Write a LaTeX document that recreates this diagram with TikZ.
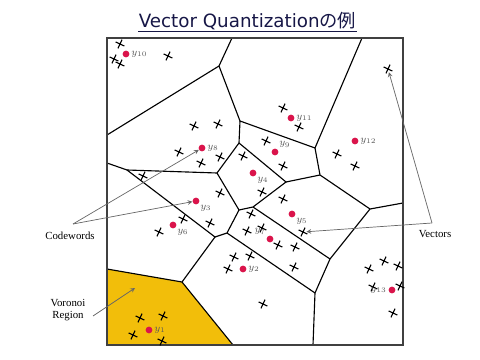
\documentclass[tikz,border=0pt]{standalone}
\usepackage{fontspec}
\setmainfont{Liberation Serif}
\newfontfamily\titlefont{DejaVu Sans}
\newfontfamily\cjkfont{Noto Sans CJK JP}
\usetikzlibrary{arrows, shapes.misc, calc}
\definecolor{navy}{RGB}{22,22,70}
\definecolor{gold}{RGB}{242,190,10}
\definecolor{crimson}{RGB}{218,20,75}

\begin{document}
\begin{tikzpicture}[x=0.025cm, y=-0.025cm,
    codeword/.style={circle, fill=crimson, inner sep=0pt, minimum size=0.17cm},
    vect/.style={cross out, draw=black, line width=0.8pt, inner sep=0pt, minimum size=0.14cm, rotate=20},
    cwlabel/.style={text=black!65, font=\fontsize{7}{8}\selectfont, inner sep=1pt},
    cell/.style={black, line width=0.8pt},
    callout/.style={black!60, line width=0.5pt, -stealth},
    note/.style={font=\fontsize{7.7}{9}\selectfont, align=center, inner sep=0pt},
]
    \useasboundingbox (0,0) rectangle (480,360);

    \node[font=\titlefont\fontsize{13}{15}\selectfont, text=navy, anchor=base, inner sep=0pt] (title) at (247.5,28) {Vector Quantization{\cjkfont の例}};
    \draw[navy, line width=0.7pt] ([yshift=-2.2pt]title.base west) -- ([yshift=-2.2pt]title.base east);

    \fill[gold] (107,269) -- (182,282) -- (233,345) -- (107,345) -- cycle;

    \coordinate (A) at (219,66);   \coordinate (top1) at (232,38);  \coordinate (left1) at (107,135);
    \coordinate (B) at (240,121);
    \coordinate (C) at (315,148);  \coordinate (top2) at (362,38);
    \coordinate (D) at (320,175);
    \coordinate (E) at (370,209);  \coordinate (right1) at (403,203);
    \coordinate (F) at (330,259);
    \coordinate (G) at (315,293);  \coordinate (bot1) at (313,345);
    \coordinate (J) at (239,143);
    \coordinate (K) at (217,173);
    \coordinate (L) at (127,170);  \coordinate (left2) at (107,163);
    \coordinate (M) at (286,182);
    \coordinate (P) at (253,207);
    \coordinate (I) at (239,210);
    \coordinate (N) at (227,233);
    \coordinate (H) at (215,237);
    \coordinate (Q) at (182,282);  \coordinate (left3) at (107,269);  \coordinate (bot2) at (233,345);

    \draw[cell] (top1) -- (A) -- (left1);
    \draw[cell] (A) -- (B) -- (C) -- (top2);
    \draw[cell] (C) -- (D) -- (E) -- (right1);
    \draw[cell] (E) -- (F) -- (G) -- (bot1);
    \draw[cell] (B) -- (J) -- (K) -- (L) -- (left2);
    \draw[cell] (L) -- (H) -- (Q) -- (left3);
    \draw[cell] (Q) -- (bot2);
    \draw[cell] (K) -- (I) -- (P) -- (M) -- (J);
    \draw[cell] (M) -- (D);
    \draw[cell] (P) -- (F);
    \draw[cell] (I) -- (N) -- (H);
    \draw[cell] (N) -- (G);

    \draw[black!75, line width=0.8pt] (107,38) rectangle (403,345);

    \foreach \x/\y [count=\i] in {120/44, 114/59, 120/64, 168/56, 194/126, 218/124, 179/152, 220/157,
        201/163, 143/176, 283/108, 299/127, 266/141, 243/156, 283/166, 262/192, 220/193, 283/199,
        337/154, 355/166, 388/69, 183/219, 210/223, 159/232, 251/214, 247/231, 262/228, 278/245,
        295/247, 234/257, 250/256, 228/269, 294/267, 263/304, 140/318, 163/316, 133/335, 162/341,
        303/232, 384/261, 398/266, 369/269, 373/287, 400/286, 393/313}
        \node[vect] (v\i) at (\x,\y) {};

    \node[codeword, label={[cwlabel]right:$y_{10}$}] (y10) at (126,54) {};
    \node[codeword, label={[cwlabel]right:$y_{8}$}] (y8) at (202,148) {};
    \node[codeword, label={[cwlabel]right:$y_{11}$}] (y11) at (291,118) {};
    \node[codeword, label={[cwlabel]above right:$y_{9}$}] (y9) at (275,152) {};
    \node[codeword, label={[cwlabel]right:$y_{12}$}] (y12) at (355,141) {};
    \node[codeword, label={[cwlabel]below right:$y_{4}$}] (y4) at (253,173) {};
    \node[codeword, label={[cwlabel]below right:$y_{3}$}] (y3) at (196,201) {};
    \node[codeword, label={[cwlabel]below right:$y_{6}$}] (y6) at (173,225) {};
    \node[codeword, label={[cwlabel]below right:$y_{5}$}] (y5) at (292,214) {};
    \node[codeword, label={[cwlabel]above left:$y_{7}$}] (y7) at (270,239) {};
    \node[codeword, label={[cwlabel]right:$y_{2}$}] (y2) at (243,269) {};
    \node[codeword, label={[cwlabel]left:$y_{13}$}] (y13) at (392,290) {};
    \node[codeword, label={[cwlabel]right:$y_{1}$}] (y1) at (149,330) {};

    \node[note] (cwtext) at (70,236) {Codewords};
    \node[note] (vrtext) at (68,310) {Voronoi\\Region};
    \node[note] (vctext) at (435,234) {Vectors};

    \coordinate (cwp) at (73,224);
    \coordinate (vrp) at (93,316);
    \coordinate (vrtip) at (135,288);
    \coordinate (vcp) at (432,223);

    \draw[callout] (cwp) -- (y8);
    \draw[callout] (cwp) -- (y3);
    \draw[callout] (vrp) -- (vrtip);
    \draw[callout] (vcp) -- (v21);
    \draw[callout] (vcp) -- (v39);
\end{tikzpicture}
\end{document}
